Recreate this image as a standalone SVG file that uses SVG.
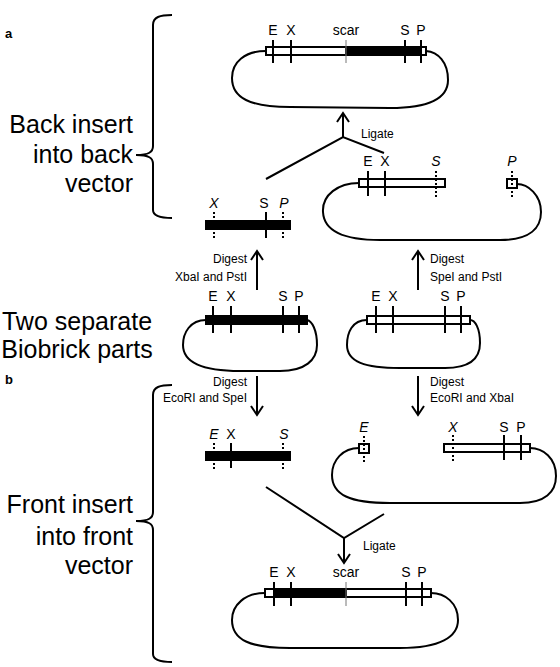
<svg xmlns="http://www.w3.org/2000/svg" width="560" height="667" viewBox="0 0 560 667">
<defs>
<style>
.ln{fill:none;stroke:#000;stroke-width:2}
.dot{fill:none;stroke:#000;stroke-width:2;stroke-dasharray:2,2}
.scar{fill:none;stroke:#777;stroke-width:1}
.bw{fill:#fff;stroke:#000;stroke-width:2}
.bk{fill:#000;stroke:#000;stroke-width:2}
.site{font-family:"Liberation Sans",Arial,sans-serif;font-size:14px;text-anchor:middle;fill:#000}
.it{font-style:italic}
.sm{font-family:"Liberation Sans",Arial,sans-serif;font-size:12px;fill:#000}
.big{font-family:"Liberation Sans",Arial,sans-serif;font-size:25px;fill:#000}
.lab{font-family:"Liberation Sans",Arial,sans-serif;font-size:13px;font-weight:bold;fill:#000}
</style>
<marker id="ah" markerWidth="14" markerHeight="14" refX="12" refY="7" orient="auto" markerUnits="userSpaceOnUse">
<path d="M3,1 L12,7 L3,13" fill="none" stroke="#000" stroke-width="2"/>
</marker>
</defs>

<g id="left-labels">
<text class="lab" x="5" y="38">a</text>
<text class="lab" x="5" y="384">b</text>
<text class="big" x="133" y="133" text-anchor="end">Back insert</text>
<text class="big" x="133" y="163" text-anchor="end">into back</text>
<text class="big" x="133" y="192" text-anchor="end">vector</text>
<text class="big" x="77" y="330" text-anchor="middle">Two separate</text>
<text class="big" x="77" y="358" text-anchor="middle">Biobrick parts</text>
<text class="big" x="133" y="513" text-anchor="end">Front insert</text>
<text class="big" x="133" y="545" text-anchor="end">into front</text>
<text class="big" x="133" y="574" text-anchor="end">vector</text>
<path class="ln" d="M172,15 C160,15 153,17 153,25 L153,146 C153,152 149,155 136,155 C149,155 153,158 153,164 L153,210 C153,216 160,218 172,218"/>
<path class="ln" d="M172,385 C160,385 153,387 153,395 L153,512 C153,518 149,521 136,521 C149,521 153,524 153,530 L153,654 C153,660 160,662 172,662"/>
</g>

<g id="plasmid-top-result">
<path class="ln" d="M266,51 C245,51 232,62 232,78 C232,98 250,107 290,107 L390,108 C430,108 448,98 448,80 C448,62 438,52 426,51"/>
<rect class="bw" x="266" y="47" width="160" height="8"/>
<rect class="bk" x="346" y="47" width="74" height="8"/>
<line class="ln" x1="273" y1="40" x2="273" y2="63"/>
<line class="ln" x1="291" y1="40" x2="291" y2="63"/>
<line class="scar" x1="346" y1="40" x2="346" y2="63"/>
<line class="ln" x1="405" y1="40" x2="405" y2="63"/>
<line class="ln" x1="421" y1="40" x2="421" y2="63"/>
<text class="site" x="273" y="35">E</text>
<text class="site" x="291" y="35">X</text>
<text class="site" x="346" y="35">scar</text>
<text class="site" x="405" y="35">S</text>
<text class="site" x="421" y="35">P</text>
</g>

<g id="vector-top">
<path class="ln" d="M359,183 C338,183 322,195 323,212 C324,232 345,240 380,240 L500,240 C530,240 541,228 541,212 C541,195 528,184 517,184"/>
<rect class="bw" x="359" y="179" width="86" height="8"/>
<rect class="bw" x="507" y="179" width="10" height="9"/>
<line class="ln" x1="368" y1="171" x2="368" y2="196"/>
<line class="ln" x1="385" y1="171" x2="385" y2="196"/>
<line class="dot" x1="436" y1="171" x2="436" y2="197"/>
<line class="dot" x1="512" y1="171" x2="512" y2="197"/>
<text class="site" x="368" y="166">E</text>
<text class="site" x="385" y="166">X</text>
<text class="site it" x="436" y="166">S</text>
<text class="site it" x="512" y="166">P</text>
</g>

<g id="fragment-top">
<rect class="bk" x="206" y="221" width="84" height="8"/>
<line class="dot" x1="214" y1="212" x2="214" y2="239"/>
<line class="ln" x1="266" y1="212" x2="266" y2="238"/>
<line class="dot" x1="283" y1="212" x2="283" y2="239"/>
<text class="site it" x="214" y="208">X</text>
<text class="site" x="264" y="208">S</text>
<text class="site it" x="284" y="208">P</text>
</g>

<g id="plasmid-mid-left">
<path class="ln" d="M206,320 C190,320 183,333 183,345 C183,362 200,371 240,371 L280,371 C305,371 317,360 317,345 C317,330 312,321 307,320"/>
<rect class="bk" x="206" y="316" width="101" height="8"/>
<line class="ln" x1="213" y1="306" x2="213" y2="333"/>
<line class="ln" x1="231" y1="306" x2="231" y2="333"/>
<line class="ln" x1="283" y1="306" x2="283" y2="333"/>
<line class="ln" x1="299" y1="306" x2="299" y2="333"/>
<text class="site" x="213" y="301">E</text>
<text class="site" x="231" y="301">X</text>
<text class="site" x="283" y="301">S</text>
<text class="site" x="299" y="301">P</text>
</g>

<g id="plasmid-mid-right">
<path class="ln" d="M367,320 C352,320 347,333 347,345 C347,362 365,368 400,368 L445,368 C470,368 480,358 480,343 C480,328 475,320 470,320"/>
<rect class="bw" x="367" y="316" width="103" height="8"/>
<line class="ln" x1="376" y1="306" x2="376" y2="333"/>
<line class="ln" x1="393" y1="306" x2="393" y2="333"/>
<line class="ln" x1="445" y1="306" x2="445" y2="333"/>
<line class="ln" x1="461" y1="306" x2="461" y2="333"/>
<text class="site" x="376" y="301">E</text>
<text class="site" x="393" y="301">X</text>
<text class="site" x="445" y="301">S</text>
<text class="site" x="461" y="301">P</text>
</g>

<g id="fragment-bottom">
<rect class="bk" x="206" y="452" width="84" height="8"/>
<line class="dot" x1="214" y1="443" x2="214" y2="470"/>
<line class="ln" x1="231" y1="443" x2="231" y2="468"/>
<line class="dot" x1="283" y1="443" x2="283" y2="470"/>
<text class="site it" x="214" y="439">E</text>
<text class="site" x="231" y="439">X</text>
<text class="site it" x="284" y="439">S</text>
</g>

<g id="vector-bottom">
<path class="ln" d="M359,448 C343,448 332,460 332,475 C332,495 350,503 390,503 L520,503 C545,503 556,492 556,476 C556,458 543,448 530,448"/>
<rect class="bw" x="359" y="444" width="10" height="9"/>
<rect class="bw" x="444" y="444" width="86" height="8"/>
<line class="dot" x1="364" y1="436" x2="364" y2="462"/>
<line class="dot" x1="453" y1="435" x2="453" y2="462"/>
<line class="ln" x1="504" y1="435" x2="504" y2="460"/>
<line class="ln" x1="521" y1="435" x2="521" y2="460"/>
<text class="site it" x="364" y="432">E</text>
<text class="site it" x="453" y="432">X</text>
<text class="site" x="504" y="432">S</text>
<text class="site" x="521" y="432">P</text>
</g>

<g id="plasmid-bottom-result">
<path class="ln" d="M265,593 C245,593 232,605 232,620 C232,640 250,648 290,648 L400,648 C440,648 458,637 458,620 C458,603 445,593 431,593"/>
<rect class="bw" x="265" y="589" width="166" height="8"/>
<rect class="bk" x="274" y="589" width="72" height="8"/>
<line class="ln" x1="274" y1="582" x2="274" y2="606"/>
<line class="ln" x1="291" y1="582" x2="291" y2="606"/>
<line class="scar" x1="346" y1="582" x2="346" y2="606"/>
<line class="ln" x1="406" y1="582" x2="406" y2="606"/>
<line class="ln" x1="422" y1="582" x2="422" y2="606"/>
<text class="site" x="274" y="577">E</text>
<text class="site" x="291" y="577">X</text>
<text class="site" x="346" y="577">scar</text>
<text class="site" x="406" y="577">S</text>
<text class="site" x="422" y="577">P</text>
</g>

<g id="connectors">
<path class="ln" d="M266,179 L343,137 L384,153"/>
<line class="ln" x1="343" y1="137" x2="343" y2="113" marker-end="url(#ah)"/>
<text class="sm" x="361" y="138">Ligate</text>
<line class="ln" x1="257" y1="290" x2="257" y2="251" marker-end="url(#ah)"/>
<text class="sm" x="247" y="263" text-anchor="end">Digest</text>
<text class="sm" x="247" y="281" text-anchor="end">XbaI and PstI</text>
<line class="ln" x1="418" y1="290" x2="418" y2="251" marker-end="url(#ah)"/>
<text class="sm" x="430" y="263">Digest</text>
<text class="sm" x="430" y="281">SpeI and PstI</text>
<line class="ln" x1="257" y1="376" x2="257" y2="415" marker-end="url(#ah)"/>
<text class="sm" x="247" y="386" text-anchor="end">Digest</text>
<text class="sm" x="247" y="402" text-anchor="end">EcoRI and SpeI</text>
<line class="ln" x1="418" y1="376" x2="418" y2="415" marker-end="url(#ah)"/>
<text class="sm" x="430" y="386">Digest</text>
<text class="sm" x="430" y="402">EcoRI and XbaI</text>
<path class="ln" d="M266,487 L344,538 L384,514"/>
<line class="ln" x1="344" y1="538" x2="344" y2="563" marker-end="url(#ah)"/>
<text class="sm" x="363" y="550">Ligate</text>
</g>
</svg>
